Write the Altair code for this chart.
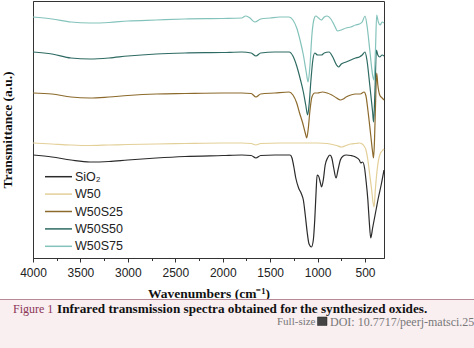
import altair as alt
import pandas as pd

# ---- data (wavenumber cm-1, trace level in a.u.) ----
series_names = ["SiO₂", "W50", "W50S25", "W50S50", "W50S75"]
series_colors = ["#2b2b2b", "#e3cf98", "#8c6a2c", "#2e6b63", "#84c3bb"]

sio2_wn = [4000, 3800, 3600, 3400, 3200, 3000, 2700, 2400, 2000, 1800, 1700, 1650, 1600, 1450, 1290, 1270, 1250,
           1230, 1200, 1170, 1150, 1130, 1110, 1090, 1065, 1045, 1030, 1015, 1005, 990, 970, 958, 940, 920, 895, 870,
           850, 830, 805, 785, 760, 730, 700, 650, 600, 560, 545, 525, 505, 490, 470, 455, 440, 420, 400, 380, 360,
           330, 300]
sio2_lv = [155, 157, 160, 162, 161.5, 160, 158, 156.5, 155.5, 155, 155.5, 158, 155.5, 155, 155, 158, 167,
           178, 188, 194, 200, 215, 232, 244, 247, 240, 220, 190, 175, 176, 183, 187, 180, 165, 158, 155,
           158, 168, 178, 170, 160, 156, 155, 155.5, 157, 160, 163, 162, 168, 180, 200, 222, 238, 228, 218, 208, 198,
           185, 170]

w50_wn = [4000, 3800, 3600, 3400, 3200, 3000, 2700, 2400, 2000, 1800, 1700, 1650, 1600, 1400, 1200, 1000, 900, 800,
          750, 700, 650, 600, 560, 530, 510, 490, 470, 450, 430, 415, 405, 390, 370, 345, 320, 300]
w50_lv = [143, 144, 145, 145.5, 145, 144.5, 144, 143.5, 143, 143, 143.5, 145, 143.5, 143, 143, 143, 143.5, 145.5,
          147, 145.5, 144, 143.5, 143, 144, 146, 150, 160, 175, 190, 203, 207, 188, 168, 155, 151, 149]

w50s25_wn = [4000, 3800, 3600, 3400, 3200, 3000, 2700, 2400, 2000, 1800, 1700, 1650, 1600, 1450, 1300, 1260, 1220,
             1190, 1160, 1130, 1115, 1100, 1080, 1060, 1030, 1000, 950, 900, 850, 800, 760, 730, 700, 650, 600, 550,
             510, 490, 470, 440, 420, 410, 400, 385, 377, 365, 345, 320, 300]
w50s25_lv = [93, 94, 97, 98, 97, 95.5, 94, 93.5, 93, 93, 93.5, 97, 94, 93, 92, 95, 103,
             113, 122, 133, 138, 130, 110, 97, 93, 93, 92, 93, 95, 98, 100, 99, 97, 95, 94, 94,
             92, 96, 110, 135, 152, 158, 140, 90, 73, 85, 95, 98, 100]

w50s50_wn = [4000, 3800, 3600, 3400, 3200, 3000, 2700, 2400, 2000, 1800, 1700, 1650, 1600, 1450, 1300, 1260, 1220,
             1180, 1150, 1125, 1105, 1090, 1070, 1050, 1030, 1000, 960, 930, 880, 840, 800, 780, 750, 700, 650, 600,
             560, 530, 500, 480, 450, 420, 410, 395, 380, 365, 345, 320, 300]
w50s50_lv = [52, 54, 58, 59, 58, 56, 54, 53, 52.5, 52, 53, 56, 53, 52, 52, 56, 66,
             80, 92, 105, 115, 105, 80, 60, 53, 55, 55, 53, 52, 57, 65, 67, 64, 62, 60, 58,
             57, 55, 52, 60, 85, 112, 122, 90, 50, 55, 57, 55, 56]

w50s75_wn = [4000, 3800, 3600, 3400, 3200, 3000, 2700, 2400, 2000, 1800, 1760, 1720, 1660, 1600, 1500, 1400, 1300,
             1260, 1220, 1180, 1150, 1120, 1100, 1080, 1060, 1040, 1020, 990, 960, 930, 900, 860, 820, 790, 750, 700,
             650, 600, 560, 530, 500, 480, 450, 420, 405, 390, 377, 360, 340, 320, 300]
w50s75_lv = [17, 19, 22, 23, 22.5, 21, 20, 19, 18.5, 18, 16, 17.5, 22, 19, 18, 17, 17,
             20, 28, 42, 55, 72, 82, 65, 35, 20, 16, 18, 20, 17, 16, 19, 26, 31, 30, 28,
             27, 25, 24, 22, 16, 25, 50, 75, 80, 50, 15, 22, 25, 22, 23]

x_major = [4000, 3500, 3000, 2500, 2000, 1500, 1000, 500]
x_minor = [3750, 3250, 2750, 2250, 1750, 1250, 750]

caption_label = ["Figure 1"]
caption_text = ["Infrared transmission spectra obtained for the synthesized oxides."]
caption_fullsize = ["Full-size"]
caption_doi = ["DOI: 10.7717/peerj-matsci.25"]

# ---- build table ----
rows = []
for name, wn, lv in [
    (series_names[0], sio2_wn, sio2_lv),
    (series_names[1], w50_wn, w50_lv),
    (series_names[2], w50s25_wn, w50s25_lv),
    (series_names[3], w50s50_wn, w50s50_lv),
    (series_names[4], w50s75_wn, w50s75_lv),
]:
    for i, (w, v) in enumerate(zip(wn, lv)):
        rows.append({"series": name, "wn": w, "level": v, "order": i})
df = pd.DataFrame(rows)
legend_df = pd.DataFrame({"series": series_names})

xscale = alt.Scale(domain=[300, 4000], reverse=True, nice=False, zero=False)
yscale = alt.Scale(domain=[1, 258], reverse=True, nice=False, zero=False)
cscale = alt.Scale(domain=series_names, range=series_colors)

lines = alt.Chart(df).mark_line(strokeWidth=1.2, interpolate="monotone").encode(
    x=alt.X("wn:Q", scale=xscale,
            axis=alt.Axis(values=x_major, format="d", orient="bottom", title="Wavenumbers (cm⁻¹)",
                          labelFont="Liberation Sans", labelFontSize=12, labelColor="#222",
                          tickSize=4, tickColor="#333", domainColor="#333", labelPadding=5,
                          grid=False, titleFont="Liberation Serif", titleFontWeight="bold",
                          titleFontSize=13.5, titleColor="#111", titlePadding=8, labelFlush=False)),
    y=alt.Y("level:Q", scale=yscale,
            axis=alt.Axis(labels=False, ticks=False, grid=False, domainColor="#333",
                          title="Transmittance (a.u.)", titleFont="Liberation Serif",
                          titleFontWeight="bold", titleFontSize=13.5, titleColor="#111",
                          titlePadding=19)),
    color=alt.Color("series:N", scale=cscale, legend=None),
    detail="series:N",
    order="order:Q",
)

minor = alt.Chart(pd.DataFrame({"wn": x_minor})).mark_point(opacity=0).encode(
    x=alt.X("wn:Q", scale=xscale,
            axis=alt.Axis(values=x_minor, orient="bottom", labels=False, domain=False, title=None,
                          tickSize=2.5, tickColor="#333", grid=False)),
)

# manual legend: rows placed by a point scale over the series names
lscale = alt.Scale(domain=series_names, range=[167, 254])
leg_lines = alt.Chart(legend_df).mark_rule(strokeWidth=1.5).encode(
    x=alt.value(12), x2=alt.value(39),
    y=alt.Y("series:N", scale=lscale, axis=None),
    color=alt.Color("series:N", scale=cscale, legend=None),
)
leg_text = alt.Chart(legend_df).mark_text(
    align="left", baseline="middle", font="Liberation Sans", fontSize=12.5, color="#222").encode(
    x=alt.value(42),
    y=alt.Y("series:N", scale=lscale, axis=None),
    text="series:N",
)
legend = alt.layer(leg_lines, leg_text)

cap_box = alt.Chart(pd.DataFrame({"k": [0]})).mark_rect(
    fill="#f9eff1", stroke="#b88896", strokeWidth=1).encode(
    x=alt.value(-34), x2=alt.value(445), y=alt.value(298.5), y2=alt.value(350))

cap_label = alt.Chart(pd.DataFrame({"t": caption_label})).mark_text(
    align="left", baseline="middle", font="Liberation Serif", fontSize=12, color="#8b3556").encode(
    x=alt.value(-20), y=alt.value(307.5), text="t:N")

cap_text = alt.Chart(pd.DataFrame({"t": caption_text})).mark_text(
    align="left", baseline="middle", font="Liberation Serif", fontSize=13.2, fontWeight="bold",
    color="#111").encode(x=alt.value(24), y=alt.value(307.5), text="t:N")

cap_full = alt.Chart(pd.DataFrame({"t": caption_fullsize})).mark_text(
    align="left", baseline="middle", font="Liberation Serif", fontSize=11, color="#777").encode(
    x=alt.value(244), y=alt.value(320.5), text="t:N")

cap_icon = alt.Chart(pd.DataFrame({"k": [0]})).mark_rect(
    fill="#444", stroke="#222", strokeWidth=0.5).encode(
    x=alt.value(284.5), x2=alt.value(294), y=alt.value(316), y2=alt.value(324.5))

cap_doi = alt.Chart(pd.DataFrame({"t": caption_doi})).mark_text(
    align="left", baseline="middle", font="Liberation Serif", fontSize=12, color="#777").encode(
    x=alt.value(297), y=alt.value(320.5), text="t:N")

chart = alt.layer(cap_box, lines, minor, legend, cap_label, cap_text, cap_full, cap_icon, cap_doi).resolve_axis(
    x="independent").resolve_scale(y="independent").properties(
    width=351, height=257,
    autosize=alt.AutoSizeParams(type="none"),
    padding={"left": 33, "top": 1, "right": 90, "bottom": 90},
    background="white",
).configure_view(stroke="#333", strokeWidth=1)

chart.save("out.html", embed_options={"renderer": "svg", "actions": False})
